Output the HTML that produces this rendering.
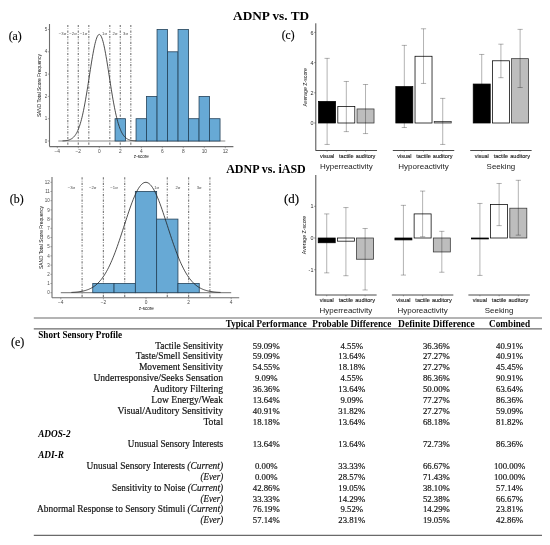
<!DOCTYPE html><html><head><meta charset="utf-8"><style>html,body{margin:0;padding:0;background:#fff;}body{position:relative;width:550px;height:545px;overflow:hidden;}svg{display:block;position:absolute;left:0;top:0;}#t{filter:grayscale(1);}</style></head><body>
<svg width="550" height="545" viewBox="0 0 550 545">
<rect width="550" height="545" fill="#fff"/>
<line x1="67.80" y1="24.00" x2="67.80" y2="146.60" stroke="#808080" stroke-width="1.2" stroke-dasharray="2.2 1.3 0.7 1.4" stroke-dashoffset="-0.9"/>
<line x1="78.30" y1="24.00" x2="78.30" y2="146.60" stroke="#808080" stroke-width="1.2" stroke-dasharray="2.2 1.3 0.7 1.4" stroke-dashoffset="-0.9"/>
<line x1="88.80" y1="24.00" x2="88.80" y2="146.60" stroke="#808080" stroke-width="1.2" stroke-dasharray="2.2 1.3 0.7 1.4" stroke-dashoffset="-0.9"/>
<line x1="109.80" y1="24.00" x2="109.80" y2="146.60" stroke="#808080" stroke-width="1.2" stroke-dasharray="2.2 1.3 0.7 1.4" stroke-dashoffset="-0.9"/>
<line x1="120.30" y1="24.00" x2="120.30" y2="146.60" stroke="#808080" stroke-width="1.2" stroke-dasharray="2.2 1.3 0.7 1.4" stroke-dashoffset="-0.9"/>
<line x1="130.80" y1="24.00" x2="130.80" y2="146.60" stroke="#808080" stroke-width="1.2" stroke-dasharray="2.2 1.3 0.7 1.4" stroke-dashoffset="-0.9"/>
<line x1="58.30" y1="141.00" x2="225.30" y2="141.00" stroke="#8c8c8c" stroke-width="1.2" />
<rect x="115.05" y="118.70" width="10.50" height="22.30" fill="#67a9d5" stroke="#24425a" stroke-width="0.8"/>
<rect x="136.05" y="118.70" width="10.50" height="22.30" fill="#67a9d5" stroke="#24425a" stroke-width="0.8"/>
<rect x="146.55" y="96.40" width="10.50" height="44.60" fill="#67a9d5" stroke="#24425a" stroke-width="0.8"/>
<rect x="157.05" y="29.50" width="10.50" height="111.50" fill="#67a9d5" stroke="#24425a" stroke-width="0.8"/>
<rect x="167.55" y="51.80" width="10.50" height="89.20" fill="#67a9d5" stroke="#24425a" stroke-width="0.8"/>
<rect x="178.05" y="29.50" width="10.50" height="111.50" fill="#67a9d5" stroke="#24425a" stroke-width="0.8"/>
<rect x="188.55" y="118.70" width="10.50" height="22.30" fill="#67a9d5" stroke="#24425a" stroke-width="0.8"/>
<rect x="199.05" y="96.40" width="10.50" height="44.60" fill="#67a9d5" stroke="#24425a" stroke-width="0.8"/>
<rect x="209.55" y="118.70" width="10.50" height="22.30" fill="#67a9d5" stroke="#24425a" stroke-width="0.8"/>
<polyline points="62.55,140.88 63.07,140.85 63.60,140.82 64.12,140.79 64.65,140.74 65.17,140.69 65.70,140.63 66.22,140.56 66.75,140.48 67.27,140.38 67.80,140.27 68.32,140.14 68.85,139.99 69.37,139.82 69.90,139.62 70.42,139.39 70.95,139.12 71.47,138.82 72.00,138.48 72.52,138.09 73.05,137.66 73.57,137.17 74.10,136.62 74.62,136.00 75.15,135.31 75.67,134.55 76.20,133.70 76.72,132.77 77.25,131.74 77.77,130.61 78.30,129.38 78.82,128.03 79.35,126.57 79.87,124.99 80.40,123.29 80.92,121.46 81.45,119.50 81.97,117.41 82.50,115.19 83.02,112.84 83.55,110.35 84.07,107.74 84.60,105.01 85.12,102.16 85.65,99.21 86.17,96.15 86.70,93.00 87.22,89.77 87.75,86.47 88.27,83.13 88.80,79.75 89.32,76.35 89.85,72.95 90.37,69.57 90.90,66.23 91.42,62.95 91.95,59.75 92.47,56.65 93.00,53.68 93.52,50.85 94.05,48.19 94.57,45.72 95.10,43.45 95.62,41.40 96.15,39.59 96.67,38.03 97.20,36.74 97.72,35.73 98.25,34.99 98.77,34.55 99.30,34.41 99.82,34.55 100.35,34.99 100.87,35.73 101.40,36.74 101.92,38.03 102.45,39.59 102.97,41.40 103.50,43.45 104.02,45.72 104.55,48.19 105.07,50.85 105.60,53.68 106.12,56.65 106.65,59.75 107.17,62.95 107.70,66.23 108.22,69.57 108.75,72.95 109.27,76.35 109.80,79.75 110.32,83.13 110.85,86.47 111.37,89.77 111.90,93.00 112.42,96.15 112.95,99.21 113.47,102.16 114.00,105.01 114.52,107.74 115.05,110.35 115.57,112.84 116.10,115.19 116.62,117.41 117.15,119.50 117.67,121.46 118.20,123.29 118.72,124.99 119.25,126.57 119.77,128.03 120.30,129.38 120.82,130.61 121.35,131.74 121.87,132.77 122.40,133.70 122.92,134.55 123.45,135.31 123.97,136.00 124.50,136.62 125.02,137.17 125.55,137.66 126.07,138.09 126.60,138.48 127.12,138.82 127.65,139.12 128.17,139.39 128.70,139.62 129.22,139.82 129.75,139.99 130.27,140.14 130.80,140.27 131.32,140.38 131.85,140.48 132.37,140.56 132.90,140.63 133.42,140.69 133.95,140.74 134.47,140.79 135.00,140.82 135.52,140.85 136.05,140.88" fill="none" stroke="#222" stroke-width="0.8"/>
<line x1="49.50" y1="24.00" x2="49.50" y2="146.60" stroke="#6e6e6e" stroke-width="1.1" />
<line x1="49.50" y1="146.60" x2="233.40" y2="146.60" stroke="#6e6e6e" stroke-width="1.1" />
<line x1="47.90" y1="141.00" x2="49.50" y2="141.00" stroke="#6e6e6e" stroke-width="0.6" />
<line x1="47.90" y1="118.70" x2="49.50" y2="118.70" stroke="#6e6e6e" stroke-width="0.6" />
<line x1="47.90" y1="96.40" x2="49.50" y2="96.40" stroke="#6e6e6e" stroke-width="0.6" />
<line x1="47.90" y1="74.10" x2="49.50" y2="74.10" stroke="#6e6e6e" stroke-width="0.6" />
<line x1="47.90" y1="51.80" x2="49.50" y2="51.80" stroke="#6e6e6e" stroke-width="0.6" />
<line x1="47.90" y1="29.50" x2="49.50" y2="29.50" stroke="#6e6e6e" stroke-width="0.6" />
<line x1="57.30" y1="146.60" x2="57.30" y2="148.20" stroke="#6e6e6e" stroke-width="0.6" />
<line x1="78.30" y1="146.60" x2="78.30" y2="148.20" stroke="#6e6e6e" stroke-width="0.6" />
<line x1="99.30" y1="146.60" x2="99.30" y2="148.20" stroke="#6e6e6e" stroke-width="0.6" />
<line x1="120.30" y1="146.60" x2="120.30" y2="148.20" stroke="#6e6e6e" stroke-width="0.6" />
<line x1="141.30" y1="146.60" x2="141.30" y2="148.20" stroke="#6e6e6e" stroke-width="0.6" />
<line x1="162.30" y1="146.60" x2="162.30" y2="148.20" stroke="#6e6e6e" stroke-width="0.6" />
<line x1="183.30" y1="146.60" x2="183.30" y2="148.20" stroke="#6e6e6e" stroke-width="0.6" />
<line x1="204.30" y1="146.60" x2="204.30" y2="148.20" stroke="#6e6e6e" stroke-width="0.6" />
<line x1="225.30" y1="146.60" x2="225.30" y2="148.20" stroke="#6e6e6e" stroke-width="0.6" />
<line x1="82.10" y1="177.00" x2="82.10" y2="297.70" stroke="#808080" stroke-width="1.2" stroke-dasharray="2.2 1.3 0.7 1.4" stroke-dashoffset="-0.2"/>
<line x1="103.40" y1="177.00" x2="103.40" y2="297.70" stroke="#808080" stroke-width="1.2" stroke-dasharray="2.2 1.3 0.7 1.4" stroke-dashoffset="-0.2"/>
<line x1="124.70" y1="177.00" x2="124.70" y2="297.70" stroke="#808080" stroke-width="1.2" stroke-dasharray="2.2 1.3 0.7 1.4" stroke-dashoffset="-0.2"/>
<line x1="167.30" y1="177.00" x2="167.30" y2="297.70" stroke="#808080" stroke-width="1.2" stroke-dasharray="2.2 1.3 0.7 1.4" stroke-dashoffset="-0.2"/>
<line x1="188.60" y1="177.00" x2="188.60" y2="297.70" stroke="#808080" stroke-width="1.2" stroke-dasharray="2.2 1.3 0.7 1.4" stroke-dashoffset="-0.2"/>
<line x1="209.90" y1="177.00" x2="209.90" y2="297.70" stroke="#808080" stroke-width="1.2" stroke-dasharray="2.2 1.3 0.7 1.4" stroke-dashoffset="-0.2"/>
<line x1="60.80" y1="292.70" x2="231.20" y2="292.70" stroke="#8c8c8c" stroke-width="1.2" />
<rect x="92.75" y="283.50" width="21.30" height="9.20" fill="#67a9d5" stroke="#24425a" stroke-width="0.8"/>
<rect x="114.05" y="283.50" width="21.30" height="9.20" fill="#67a9d5" stroke="#24425a" stroke-width="0.8"/>
<rect x="135.35" y="191.50" width="21.30" height="101.20" fill="#67a9d5" stroke="#24425a" stroke-width="0.8"/>
<rect x="156.65" y="219.10" width="21.30" height="73.60" fill="#67a9d5" stroke="#24425a" stroke-width="0.8"/>
<rect x="177.95" y="283.50" width="21.30" height="9.20" fill="#67a9d5" stroke="#24425a" stroke-width="0.8"/>
<polyline points="71.45,292.40 72.52,292.35 73.58,292.28 74.64,292.21 75.71,292.12 76.77,292.02 77.84,291.91 78.90,291.78 79.97,291.63 81.03,291.46 82.10,291.26 83.16,291.04 84.23,290.78 85.29,290.50 86.36,290.17 87.42,289.81 88.49,289.41 89.55,288.95 90.62,288.44 91.68,287.88 92.75,287.25 93.81,286.56 94.88,285.80 95.94,284.96 97.01,284.04 98.07,283.03 99.14,281.93 100.20,280.74 101.27,279.45 102.33,278.05 103.40,276.55 104.46,274.93 105.53,273.20 106.59,271.35 107.66,269.39 108.72,267.30 109.79,265.10 110.85,262.77 111.92,260.33 112.98,257.78 114.05,255.11 115.11,252.34 116.18,249.48 117.24,246.52 118.31,243.47 119.37,240.35 120.44,237.18 121.50,233.95 122.57,230.68 123.63,227.39 124.70,224.09 125.76,220.80 126.83,217.54 127.89,214.31 128.96,211.15 130.02,208.07 131.09,205.08 132.15,202.20 133.22,199.46 134.28,196.87 135.35,194.44 136.41,192.20 137.48,190.16 138.54,188.32 139.61,186.72 140.67,185.34 141.74,184.22 142.80,183.35 143.87,182.73 144.93,182.39 146.00,182.31 147.06,182.49 148.13,182.95 149.19,183.66 150.26,184.64 151.32,185.86 152.39,187.33 153.45,189.03 154.52,190.95 155.58,193.07 156.65,195.39 157.71,197.89 158.78,200.54 159.84,203.34 160.91,206.26 161.97,209.29 163.04,212.41 164.10,215.60 165.17,218.84 166.23,222.11 167.30,225.41 168.36,228.71 169.43,231.99 170.49,235.24 171.56,238.45 172.62,241.61 173.69,244.70 174.75,247.71 175.82,250.63 176.88,253.46 177.95,256.19 179.01,258.81 180.08,261.32 181.14,263.72 182.21,265.99 183.27,268.15 184.34,270.19 185.40,272.10 186.47,273.91 187.53,275.59 188.60,277.16 189.66,278.62 190.73,279.98 191.79,281.23 192.86,282.38 193.92,283.44 194.99,284.42 196.05,285.30 197.12,286.11 198.18,286.85 199.25,287.51 200.31,288.11 201.38,288.65 202.44,289.14 203.51,289.57 204.57,289.96 205.64,290.31 206.70,290.62 207.77,290.89 208.83,291.13 209.90,291.34 210.96,291.53 212.03,291.69 213.09,291.83 214.16,291.96 215.22,292.06 216.29,292.16 217.35,292.24 218.42,292.31 219.48,292.37 220.55,292.42" fill="none" stroke="#222" stroke-width="0.8"/>
<line x1="52.00" y1="177.00" x2="52.00" y2="297.70" stroke="#6e6e6e" stroke-width="1.1" />
<line x1="52.00" y1="297.70" x2="239.20" y2="297.70" stroke="#6e6e6e" stroke-width="1.1" />
<line x1="50.40" y1="292.70" x2="52.00" y2="292.70" stroke="#6e6e6e" stroke-width="0.6" />
<line x1="50.40" y1="283.50" x2="52.00" y2="283.50" stroke="#6e6e6e" stroke-width="0.6" />
<line x1="50.40" y1="274.30" x2="52.00" y2="274.30" stroke="#6e6e6e" stroke-width="0.6" />
<line x1="50.40" y1="265.10" x2="52.00" y2="265.10" stroke="#6e6e6e" stroke-width="0.6" />
<line x1="50.40" y1="255.90" x2="52.00" y2="255.90" stroke="#6e6e6e" stroke-width="0.6" />
<line x1="50.40" y1="246.70" x2="52.00" y2="246.70" stroke="#6e6e6e" stroke-width="0.6" />
<line x1="50.40" y1="237.50" x2="52.00" y2="237.50" stroke="#6e6e6e" stroke-width="0.6" />
<line x1="50.40" y1="228.30" x2="52.00" y2="228.30" stroke="#6e6e6e" stroke-width="0.6" />
<line x1="50.40" y1="219.10" x2="52.00" y2="219.10" stroke="#6e6e6e" stroke-width="0.6" />
<line x1="50.40" y1="209.90" x2="52.00" y2="209.90" stroke="#6e6e6e" stroke-width="0.6" />
<line x1="50.40" y1="200.70" x2="52.00" y2="200.70" stroke="#6e6e6e" stroke-width="0.6" />
<line x1="50.40" y1="191.50" x2="52.00" y2="191.50" stroke="#6e6e6e" stroke-width="0.6" />
<line x1="50.40" y1="182.30" x2="52.00" y2="182.30" stroke="#6e6e6e" stroke-width="0.6" />
<line x1="60.80" y1="297.70" x2="60.80" y2="299.30" stroke="#6e6e6e" stroke-width="0.6" />
<line x1="103.40" y1="297.70" x2="103.40" y2="299.30" stroke="#6e6e6e" stroke-width="0.6" />
<line x1="146.00" y1="297.70" x2="146.00" y2="299.30" stroke="#6e6e6e" stroke-width="0.6" />
<line x1="188.60" y1="297.70" x2="188.60" y2="299.30" stroke="#6e6e6e" stroke-width="0.6" />
<line x1="231.20" y1="297.70" x2="231.20" y2="299.30" stroke="#6e6e6e" stroke-width="0.6" />
<rect x="318.62" y="101.41" width="17.00" height="21.59" fill="#000" stroke="#000" stroke-width="0.75"/>
<path d="M324.52,58.37H329.72M327.12,58.37V144.44M324.52,144.44H329.72" stroke="#000" stroke-opacity="0.3" stroke-width="1.0" fill="none"/>
<line x1="327.12" y1="150.50" x2="327.12" y2="151.80" stroke="#4a4a4a" stroke-width="0.5" />
<rect x="337.82" y="106.39" width="17.00" height="16.61" fill="#fff" stroke="#000" stroke-width="0.75"/>
<path d="M343.72,81.47H348.92M346.32,81.47V131.61M343.72,131.61H348.92" stroke="#000" stroke-opacity="0.3" stroke-width="1.0" fill="none"/>
<line x1="346.32" y1="150.50" x2="346.32" y2="151.80" stroke="#4a4a4a" stroke-width="0.5" />
<rect x="357.02" y="108.96" width="17.00" height="14.04" fill="#bdbdbd" stroke="#333" stroke-width="0.75"/>
<path d="M362.92,84.50H368.12M365.52,84.50V133.57M362.92,133.57H368.12" stroke="#000" stroke-opacity="0.3" stroke-width="1.0" fill="none"/>
<line x1="365.52" y1="150.50" x2="365.52" y2="151.80" stroke="#4a4a4a" stroke-width="0.5" />
<line x1="315.60" y1="150.50" x2="377.04" y2="150.50" stroke="#4a4a4a" stroke-width="1" />
<rect x="395.82" y="86.61" width="17.00" height="36.39" fill="#000" stroke="#000" stroke-width="0.75"/>
<path d="M401.72,45.39H406.92M404.32,45.39V127.53M401.72,127.53H406.92" stroke="#000" stroke-opacity="0.3" stroke-width="1.0" fill="none"/>
<line x1="404.32" y1="150.50" x2="404.32" y2="151.80" stroke="#4a4a4a" stroke-width="0.5" />
<rect x="415.02" y="56.26" width="17.00" height="66.74" fill="#fff" stroke="#000" stroke-width="0.75"/>
<path d="M420.92,28.78H426.12M423.52,28.78V83.44M420.92,83.44H426.12" stroke="#000" stroke-opacity="0.3" stroke-width="1.0" fill="none"/>
<line x1="423.52" y1="150.50" x2="423.52" y2="151.80" stroke="#4a4a4a" stroke-width="0.5" />
<rect x="434.22" y="121.49" width="17.00" height="1.51" fill="#bdbdbd" stroke="#333" stroke-width="0.75"/>
<path d="M440.12,98.39H445.32M442.72,98.39V144.44M440.12,144.44H445.32" stroke="#000" stroke-opacity="0.3" stroke-width="1.0" fill="none"/>
<line x1="442.72" y1="150.50" x2="442.72" y2="151.80" stroke="#4a4a4a" stroke-width="0.5" />
<line x1="392.80" y1="150.50" x2="454.24" y2="150.50" stroke="#4a4a4a" stroke-width="1" />
<rect x="473.22" y="84.04" width="17.00" height="38.96" fill="#000" stroke="#000" stroke-width="0.75"/>
<path d="M479.12,54.45H484.32M481.72,54.45V113.64M479.12,113.64H484.32" stroke="#000" stroke-opacity="0.3" stroke-width="1.0" fill="none"/>
<line x1="481.72" y1="150.50" x2="481.72" y2="151.80" stroke="#4a4a4a" stroke-width="0.5" />
<rect x="492.42" y="60.79" width="17.00" height="62.21" fill="#fff" stroke="#000" stroke-width="0.75"/>
<path d="M498.32,44.18H503.52M500.92,44.18V77.70M498.32,77.70H503.52" stroke="#000" stroke-opacity="0.3" stroke-width="1.0" fill="none"/>
<line x1="500.92" y1="150.50" x2="500.92" y2="151.80" stroke="#4a4a4a" stroke-width="0.5" />
<rect x="511.62" y="58.67" width="17.00" height="64.33" fill="#bdbdbd" stroke="#333" stroke-width="0.75"/>
<path d="M517.52,29.38H522.72M520.12,29.38V87.52M517.52,87.52H522.72" stroke="#000" stroke-opacity="0.3" stroke-width="1.0" fill="none"/>
<line x1="520.12" y1="150.50" x2="520.12" y2="151.80" stroke="#4a4a4a" stroke-width="0.5" />
<line x1="470.20" y1="150.50" x2="531.64" y2="150.50" stroke="#4a4a4a" stroke-width="1" />
<line x1="315.80" y1="23.30" x2="315.80" y2="150.50" stroke="#4a4a4a" stroke-width="1" />
<line x1="314.20" y1="123.00" x2="315.80" y2="123.00" stroke="#4a4a4a" stroke-width="0.6" />
<line x1="314.20" y1="92.80" x2="315.80" y2="92.80" stroke="#4a4a4a" stroke-width="0.6" />
<line x1="314.20" y1="62.60" x2="315.80" y2="62.60" stroke="#4a4a4a" stroke-width="0.6" />
<line x1="314.20" y1="32.40" x2="315.80" y2="32.40" stroke="#4a4a4a" stroke-width="0.6" />
<rect x="318.22" y="238.00" width="17.00" height="4.75" fill="#000" stroke="#000" stroke-width="0.75"/>
<path d="M324.12,213.91H329.32M326.72,213.91V272.87M324.12,272.87H329.32" stroke="#000" stroke-opacity="0.3" stroke-width="1.0" fill="none"/>
<line x1="326.72" y1="295.00" x2="326.72" y2="296.30" stroke="#4a4a4a" stroke-width="0.5" />
<rect x="337.42" y="238.00" width="17.00" height="3.17" fill="#fff" stroke="#000" stroke-width="0.75"/>
<path d="M343.32,207.57H348.52M345.92,207.57V275.72M343.32,275.72H348.52" stroke="#000" stroke-opacity="0.3" stroke-width="1.0" fill="none"/>
<line x1="345.92" y1="295.00" x2="345.92" y2="296.30" stroke="#4a4a4a" stroke-width="0.5" />
<rect x="356.62" y="238.00" width="17.00" height="21.24" fill="#bdbdbd" stroke="#333" stroke-width="0.75"/>
<path d="M362.52,228.49H367.72M365.12,228.49V289.99M362.52,289.99H367.72" stroke="#000" stroke-opacity="0.3" stroke-width="1.0" fill="none"/>
<line x1="365.12" y1="295.00" x2="365.12" y2="296.30" stroke="#4a4a4a" stroke-width="0.5" />
<line x1="315.20" y1="295.00" x2="376.64" y2="295.00" stroke="#4a4a4a" stroke-width="1" />
<rect x="394.92" y="238.00" width="17.00" height="1.90" fill="#000" stroke="#000" stroke-width="0.75"/>
<path d="M400.82,205.35H406.02M403.42,205.35V275.09M400.82,275.09H406.02" stroke="#000" stroke-opacity="0.3" stroke-width="1.0" fill="none"/>
<line x1="403.42" y1="295.00" x2="403.42" y2="296.30" stroke="#4a4a4a" stroke-width="0.5" />
<rect x="414.12" y="213.91" width="17.00" height="24.09" fill="#fff" stroke="#000" stroke-width="0.75"/>
<path d="M420.02,191.08H425.22M422.62,191.08V236.73M420.02,236.73H425.22" stroke="#000" stroke-opacity="0.3" stroke-width="1.0" fill="none"/>
<line x1="422.62" y1="295.00" x2="422.62" y2="296.30" stroke="#4a4a4a" stroke-width="0.5" />
<rect x="433.32" y="238.00" width="17.00" height="13.95" fill="#bdbdbd" stroke="#333" stroke-width="0.75"/>
<path d="M439.22,231.34H444.42M441.82,231.34V272.24M439.22,272.24H444.42" stroke="#000" stroke-opacity="0.3" stroke-width="1.0" fill="none"/>
<line x1="441.82" y1="295.00" x2="441.82" y2="296.30" stroke="#4a4a4a" stroke-width="0.5" />
<line x1="391.90" y1="295.00" x2="453.34" y2="295.00" stroke="#4a4a4a" stroke-width="1" />
<rect x="471.42" y="238.00" width="17.00" height="0.95" fill="#000" stroke="#000" stroke-width="0.75"/>
<path d="M477.32,203.45H482.52M479.92,203.45V275.41M477.32,275.41H482.52" stroke="#000" stroke-opacity="0.3" stroke-width="1.0" fill="none"/>
<line x1="479.92" y1="295.00" x2="479.92" y2="296.30" stroke="#4a4a4a" stroke-width="0.5" />
<rect x="490.62" y="204.40" width="17.00" height="33.60" fill="#fff" stroke="#000" stroke-width="0.75"/>
<path d="M496.52,183.48H501.72M499.12,183.48V225.64M496.52,225.64H501.72" stroke="#000" stroke-opacity="0.3" stroke-width="1.0" fill="none"/>
<line x1="499.12" y1="295.00" x2="499.12" y2="296.30" stroke="#4a4a4a" stroke-width="0.5" />
<rect x="509.82" y="208.20" width="17.00" height="29.80" fill="#bdbdbd" stroke="#333" stroke-width="0.75"/>
<path d="M515.72,180.31H520.92M518.32,180.31V235.15M515.72,235.15H520.92" stroke="#000" stroke-opacity="0.3" stroke-width="1.0" fill="none"/>
<line x1="518.32" y1="295.00" x2="518.32" y2="296.30" stroke="#4a4a4a" stroke-width="0.5" />
<line x1="468.40" y1="295.00" x2="529.84" y2="295.00" stroke="#4a4a4a" stroke-width="1" />
<line x1="315.80" y1="175.00" x2="315.80" y2="295.00" stroke="#4a4a4a" stroke-width="1" />
<line x1="314.20" y1="269.70" x2="315.80" y2="269.70" stroke="#4a4a4a" stroke-width="0.6" />
<line x1="314.20" y1="238.00" x2="315.80" y2="238.00" stroke="#4a4a4a" stroke-width="0.6" />
<line x1="314.20" y1="206.30" x2="315.80" y2="206.30" stroke="#4a4a4a" stroke-width="0.6" />
<line x1="33.80" y1="318.00" x2="542.00" y2="318.00" stroke="#6a6a6a" stroke-width="1.1" />
<line x1="33.80" y1="328.90" x2="542.00" y2="328.90" stroke="#6a6a6a" stroke-width="1.1" />
<line x1="33.80" y1="535.40" x2="542.00" y2="535.40" stroke="#6a6a6a" stroke-width="1.1" />
</svg>
<svg id="t" width="550" height="545" viewBox="0 0 550 545">
<text x="233.10" y="19.60" font-family='"Liberation Serif", serif' font-size="12.9" text-anchor="start" fill="#000" font-weight="bold" font-style="normal" textLength="76.00" lengthAdjust="spacingAndGlyphs" >ADNP vs. TD</text>
<text x="226.20" y="172.60" font-family='"Liberation Serif", serif' font-size="12.6" text-anchor="start" fill="#000" font-weight="bold" font-style="normal" textLength="79.60" lengthAdjust="spacingAndGlyphs" >ADNP vs. iASD</text>
<text x="8.70" y="40.40" font-family='"Liberation Serif", serif' font-size="12.5" text-anchor="start" fill="#000" font-weight="normal" font-style="normal" textLength="13.10" lengthAdjust="spacingAndGlyphs"  stroke="#000" stroke-width="0.15">(a)</text>
<text x="9.80" y="203.00" font-family='"Liberation Serif", serif' font-size="12.5" text-anchor="start" fill="#000" font-weight="normal" font-style="normal" textLength="13.80" lengthAdjust="spacingAndGlyphs"  stroke="#000" stroke-width="0.15">(b)</text>
<text x="281.70" y="38.50" font-family='"Liberation Serif", serif' font-size="12.5" text-anchor="start" fill="#000" font-weight="normal" font-style="normal" textLength="12.80" lengthAdjust="spacingAndGlyphs"  stroke="#000" stroke-width="0.15">(c)</text>
<text x="283.90" y="203.30" font-family='"Liberation Serif", serif' font-size="12.5" text-anchor="start" fill="#000" font-weight="normal" font-style="normal" textLength="15.10" lengthAdjust="spacingAndGlyphs"  stroke="#000" stroke-width="0.15">(d)</text>
<text x="10.90" y="345.60" font-family='"Liberation Serif", serif' font-size="12.5" text-anchor="start" fill="#000" font-weight="normal" font-style="normal" textLength="13.50" lengthAdjust="spacingAndGlyphs"  stroke="#000" stroke-width="0.15">(e)</text>
<text x="62.55" y="35.30" font-family='"Liberation Sans", sans-serif' font-size="4.2" text-anchor="middle" fill="#505050" font-weight="normal" font-style="normal" >−3σ</text>
<text x="73.05" y="35.30" font-family='"Liberation Sans", sans-serif' font-size="4.2" text-anchor="middle" fill="#505050" font-weight="normal" font-style="normal" >−2σ</text>
<text x="83.55" y="35.30" font-family='"Liberation Sans", sans-serif' font-size="4.2" text-anchor="middle" fill="#505050" font-weight="normal" font-style="normal" >−1σ</text>
<text x="104.55" y="35.30" font-family='"Liberation Sans", sans-serif' font-size="4.2" text-anchor="middle" fill="#505050" font-weight="normal" font-style="normal" >1σ</text>
<text x="115.05" y="35.30" font-family='"Liberation Sans", sans-serif' font-size="4.2" text-anchor="middle" fill="#505050" font-weight="normal" font-style="normal" >2σ</text>
<text x="125.55" y="35.30" font-family='"Liberation Sans", sans-serif' font-size="4.2" text-anchor="middle" fill="#505050" font-weight="normal" font-style="normal" >3σ</text>
<text x="47.30" y="142.60" font-family='"Liberation Sans", sans-serif' font-size="4.5" text-anchor="end" fill="#4a4a4a" font-weight="normal" font-style="normal" >0</text>
<text x="47.30" y="120.30" font-family='"Liberation Sans", sans-serif' font-size="4.5" text-anchor="end" fill="#4a4a4a" font-weight="normal" font-style="normal" >1</text>
<text x="47.30" y="98.00" font-family='"Liberation Sans", sans-serif' font-size="4.5" text-anchor="end" fill="#4a4a4a" font-weight="normal" font-style="normal" >2</text>
<text x="47.30" y="75.70" font-family='"Liberation Sans", sans-serif' font-size="4.5" text-anchor="end" fill="#4a4a4a" font-weight="normal" font-style="normal" >3</text>
<text x="47.30" y="53.40" font-family='"Liberation Sans", sans-serif' font-size="4.5" text-anchor="end" fill="#4a4a4a" font-weight="normal" font-style="normal" >4</text>
<text x="47.30" y="31.10" font-family='"Liberation Sans", sans-serif' font-size="4.5" text-anchor="end" fill="#4a4a4a" font-weight="normal" font-style="normal" >5</text>
<text x="57.30" y="152.90" font-family='"Liberation Sans", sans-serif' font-size="4.8" text-anchor="middle" fill="#4a4a4a" font-weight="normal" font-style="normal" >−4</text>
<text x="78.30" y="152.90" font-family='"Liberation Sans", sans-serif' font-size="4.8" text-anchor="middle" fill="#4a4a4a" font-weight="normal" font-style="normal" >−2</text>
<text x="99.30" y="152.90" font-family='"Liberation Sans", sans-serif' font-size="4.8" text-anchor="middle" fill="#4a4a4a" font-weight="normal" font-style="normal" >0</text>
<text x="120.30" y="152.90" font-family='"Liberation Sans", sans-serif' font-size="4.8" text-anchor="middle" fill="#4a4a4a" font-weight="normal" font-style="normal" >2</text>
<text x="141.30" y="152.90" font-family='"Liberation Sans", sans-serif' font-size="4.8" text-anchor="middle" fill="#4a4a4a" font-weight="normal" font-style="normal" >4</text>
<text x="162.30" y="152.90" font-family='"Liberation Sans", sans-serif' font-size="4.8" text-anchor="middle" fill="#4a4a4a" font-weight="normal" font-style="normal" >6</text>
<text x="183.30" y="152.90" font-family='"Liberation Sans", sans-serif' font-size="4.8" text-anchor="middle" fill="#4a4a4a" font-weight="normal" font-style="normal" >8</text>
<text x="204.30" y="152.90" font-family='"Liberation Sans", sans-serif' font-size="4.8" text-anchor="middle" fill="#4a4a4a" font-weight="normal" font-style="normal" >10</text>
<text x="225.30" y="152.90" font-family='"Liberation Sans", sans-serif' font-size="4.8" text-anchor="middle" fill="#4a4a4a" font-weight="normal" font-style="normal" >12</text>
<text x="141.40" y="158.20" font-family='"Liberation Sans", sans-serif' font-size="4.6" text-anchor="middle" fill="#111" font-weight="normal" font-style="normal" >z-score</text>
<text transform="translate(41.30,85.60) rotate(-90)" x="0" y="0" font-family='"Liberation Sans", sans-serif' font-size="4.75" text-anchor="middle" fill="#111" textLength="63" lengthAdjust="spacingAndGlyphs">SAND Total Score Frequency</text>
<text x="71.45" y="188.80" font-family='"Liberation Sans", sans-serif' font-size="4.2" text-anchor="middle" fill="#505050" font-weight="normal" font-style="normal" >−3σ</text>
<text x="92.75" y="188.80" font-family='"Liberation Sans", sans-serif' font-size="4.2" text-anchor="middle" fill="#505050" font-weight="normal" font-style="normal" >−2σ</text>
<text x="114.05" y="188.80" font-family='"Liberation Sans", sans-serif' font-size="4.2" text-anchor="middle" fill="#505050" font-weight="normal" font-style="normal" >−1σ</text>
<text x="156.65" y="188.80" font-family='"Liberation Sans", sans-serif' font-size="4.2" text-anchor="middle" fill="#505050" font-weight="normal" font-style="normal" >1σ</text>
<text x="177.95" y="188.80" font-family='"Liberation Sans", sans-serif' font-size="4.2" text-anchor="middle" fill="#505050" font-weight="normal" font-style="normal" >2σ</text>
<text x="199.25" y="188.80" font-family='"Liberation Sans", sans-serif' font-size="4.2" text-anchor="middle" fill="#505050" font-weight="normal" font-style="normal" >3σ</text>
<text x="49.80" y="294.30" font-family='"Liberation Sans", sans-serif' font-size="4.5" text-anchor="end" fill="#4a4a4a" font-weight="normal" font-style="normal" >0</text>
<text x="49.80" y="285.10" font-family='"Liberation Sans", sans-serif' font-size="4.5" text-anchor="end" fill="#4a4a4a" font-weight="normal" font-style="normal" >1</text>
<text x="49.80" y="275.90" font-family='"Liberation Sans", sans-serif' font-size="4.5" text-anchor="end" fill="#4a4a4a" font-weight="normal" font-style="normal" >2</text>
<text x="49.80" y="266.70" font-family='"Liberation Sans", sans-serif' font-size="4.5" text-anchor="end" fill="#4a4a4a" font-weight="normal" font-style="normal" >3</text>
<text x="49.80" y="257.50" font-family='"Liberation Sans", sans-serif' font-size="4.5" text-anchor="end" fill="#4a4a4a" font-weight="normal" font-style="normal" >4</text>
<text x="49.80" y="248.30" font-family='"Liberation Sans", sans-serif' font-size="4.5" text-anchor="end" fill="#4a4a4a" font-weight="normal" font-style="normal" >5</text>
<text x="49.80" y="239.10" font-family='"Liberation Sans", sans-serif' font-size="4.5" text-anchor="end" fill="#4a4a4a" font-weight="normal" font-style="normal" >6</text>
<text x="49.80" y="229.90" font-family='"Liberation Sans", sans-serif' font-size="4.5" text-anchor="end" fill="#4a4a4a" font-weight="normal" font-style="normal" >7</text>
<text x="49.80" y="220.70" font-family='"Liberation Sans", sans-serif' font-size="4.5" text-anchor="end" fill="#4a4a4a" font-weight="normal" font-style="normal" >8</text>
<text x="49.80" y="211.50" font-family='"Liberation Sans", sans-serif' font-size="4.5" text-anchor="end" fill="#4a4a4a" font-weight="normal" font-style="normal" >9</text>
<text x="49.80" y="202.30" font-family='"Liberation Sans", sans-serif' font-size="4.5" text-anchor="end" fill="#4a4a4a" font-weight="normal" font-style="normal" >10</text>
<text x="49.80" y="193.10" font-family='"Liberation Sans", sans-serif' font-size="4.5" text-anchor="end" fill="#4a4a4a" font-weight="normal" font-style="normal" >11</text>
<text x="49.80" y="183.90" font-family='"Liberation Sans", sans-serif' font-size="4.5" text-anchor="end" fill="#4a4a4a" font-weight="normal" font-style="normal" >12</text>
<text x="60.80" y="304.00" font-family='"Liberation Sans", sans-serif' font-size="4.8" text-anchor="middle" fill="#4a4a4a" font-weight="normal" font-style="normal" >−4</text>
<text x="103.40" y="304.00" font-family='"Liberation Sans", sans-serif' font-size="4.8" text-anchor="middle" fill="#4a4a4a" font-weight="normal" font-style="normal" >−2</text>
<text x="146.00" y="304.00" font-family='"Liberation Sans", sans-serif' font-size="4.8" text-anchor="middle" fill="#4a4a4a" font-weight="normal" font-style="normal" >0</text>
<text x="188.60" y="304.00" font-family='"Liberation Sans", sans-serif' font-size="4.8" text-anchor="middle" fill="#4a4a4a" font-weight="normal" font-style="normal" >2</text>
<text x="231.20" y="304.00" font-family='"Liberation Sans", sans-serif' font-size="4.8" text-anchor="middle" fill="#4a4a4a" font-weight="normal" font-style="normal" >4</text>
<text x="146.40" y="309.60" font-family='"Liberation Sans", sans-serif' font-size="4.6" text-anchor="middle" fill="#111" font-weight="normal" font-style="normal" >z-score</text>
<text transform="translate(42.90,237.50) rotate(-90)" x="0" y="0" font-family='"Liberation Sans", sans-serif' font-size="4.75" text-anchor="middle" fill="#111" textLength="63" lengthAdjust="spacingAndGlyphs">SAND Total Score Frequency</text>
<text x="327.12" y="157.80" font-family='"Liberation Sans", sans-serif' font-size="5.55" text-anchor="middle" fill="#1a1a1a" font-weight="normal" font-style="normal" stroke="#1a1a1a" stroke-width="0.12">visual</text>
<text x="346.32" y="157.80" font-family='"Liberation Sans", sans-serif' font-size="5.55" text-anchor="middle" fill="#1a1a1a" font-weight="normal" font-style="normal" stroke="#1a1a1a" stroke-width="0.12">tactile</text>
<text x="365.52" y="157.80" font-family='"Liberation Sans", sans-serif' font-size="5.55" text-anchor="middle" fill="#1a1a1a" font-weight="normal" font-style="normal" stroke="#1a1a1a" stroke-width="0.12">auditory</text>
<text x="346.32" y="169.40" font-family='"Liberation Sans", sans-serif' font-size="8.0" text-anchor="middle" fill="#1a1a1a" font-weight="normal" font-style="normal" textLength="52.60" lengthAdjust="spacingAndGlyphs" >Hyperreactivity</text>
<text x="404.32" y="157.80" font-family='"Liberation Sans", sans-serif' font-size="5.55" text-anchor="middle" fill="#1a1a1a" font-weight="normal" font-style="normal" stroke="#1a1a1a" stroke-width="0.12">visual</text>
<text x="423.52" y="157.80" font-family='"Liberation Sans", sans-serif' font-size="5.55" text-anchor="middle" fill="#1a1a1a" font-weight="normal" font-style="normal" stroke="#1a1a1a" stroke-width="0.12">tactile</text>
<text x="442.72" y="157.80" font-family='"Liberation Sans", sans-serif' font-size="5.55" text-anchor="middle" fill="#1a1a1a" font-weight="normal" font-style="normal" stroke="#1a1a1a" stroke-width="0.12">auditory</text>
<text x="423.52" y="169.40" font-family='"Liberation Sans", sans-serif' font-size="8.0" text-anchor="middle" fill="#1a1a1a" font-weight="normal" font-style="normal" textLength="50.40" lengthAdjust="spacingAndGlyphs" >Hyporeactivity</text>
<text x="481.72" y="157.80" font-family='"Liberation Sans", sans-serif' font-size="5.55" text-anchor="middle" fill="#1a1a1a" font-weight="normal" font-style="normal" stroke="#1a1a1a" stroke-width="0.12">visual</text>
<text x="500.92" y="157.80" font-family='"Liberation Sans", sans-serif' font-size="5.55" text-anchor="middle" fill="#1a1a1a" font-weight="normal" font-style="normal" stroke="#1a1a1a" stroke-width="0.12">tactile</text>
<text x="520.12" y="157.80" font-family='"Liberation Sans", sans-serif' font-size="5.55" text-anchor="middle" fill="#1a1a1a" font-weight="normal" font-style="normal" stroke="#1a1a1a" stroke-width="0.12">auditory</text>
<text x="500.92" y="169.40" font-family='"Liberation Sans", sans-serif' font-size="8.0" text-anchor="middle" fill="#1a1a1a" font-weight="normal" font-style="normal" textLength="28.60" lengthAdjust="spacingAndGlyphs" >Seeking</text>
<text x="313.40" y="125.10" font-family='"Liberation Sans", sans-serif' font-size="5.4" text-anchor="end" fill="#2a2a2a" font-weight="normal" font-style="normal" >0</text>
<text x="313.40" y="94.90" font-family='"Liberation Sans", sans-serif' font-size="5.4" text-anchor="end" fill="#2a2a2a" font-weight="normal" font-style="normal" >2</text>
<text x="313.40" y="64.70" font-family='"Liberation Sans", sans-serif' font-size="5.4" text-anchor="end" fill="#2a2a2a" font-weight="normal" font-style="normal" >4</text>
<text x="313.40" y="34.50" font-family='"Liberation Sans", sans-serif' font-size="5.4" text-anchor="end" fill="#2a2a2a" font-weight="normal" font-style="normal" >6</text>
<text transform="translate(307.30,87.30) rotate(-90)" x="0" y="0" font-family='"Liberation Sans", sans-serif' font-size="5.4" text-anchor="middle" fill="#111" textLength="38.5" lengthAdjust="spacingAndGlyphs">Average Z-score</text>
<text x="326.72" y="301.90" font-family='"Liberation Sans", sans-serif' font-size="5.55" text-anchor="middle" fill="#1a1a1a" font-weight="normal" font-style="normal" stroke="#1a1a1a" stroke-width="0.12">visual</text>
<text x="345.92" y="301.90" font-family='"Liberation Sans", sans-serif' font-size="5.55" text-anchor="middle" fill="#1a1a1a" font-weight="normal" font-style="normal" stroke="#1a1a1a" stroke-width="0.12">tactile</text>
<text x="365.12" y="301.90" font-family='"Liberation Sans", sans-serif' font-size="5.55" text-anchor="middle" fill="#1a1a1a" font-weight="normal" font-style="normal" stroke="#1a1a1a" stroke-width="0.12">auditory</text>
<text x="345.92" y="313.00" font-family='"Liberation Sans", sans-serif' font-size="8.0" text-anchor="middle" fill="#1a1a1a" font-weight="normal" font-style="normal" textLength="52.60" lengthAdjust="spacingAndGlyphs" >Hyperreactivity</text>
<text x="403.42" y="301.90" font-family='"Liberation Sans", sans-serif' font-size="5.55" text-anchor="middle" fill="#1a1a1a" font-weight="normal" font-style="normal" stroke="#1a1a1a" stroke-width="0.12">visual</text>
<text x="422.62" y="301.90" font-family='"Liberation Sans", sans-serif' font-size="5.55" text-anchor="middle" fill="#1a1a1a" font-weight="normal" font-style="normal" stroke="#1a1a1a" stroke-width="0.12">tactile</text>
<text x="441.82" y="301.90" font-family='"Liberation Sans", sans-serif' font-size="5.55" text-anchor="middle" fill="#1a1a1a" font-weight="normal" font-style="normal" stroke="#1a1a1a" stroke-width="0.12">auditory</text>
<text x="422.62" y="313.00" font-family='"Liberation Sans", sans-serif' font-size="8.0" text-anchor="middle" fill="#1a1a1a" font-weight="normal" font-style="normal" textLength="50.40" lengthAdjust="spacingAndGlyphs" >Hyporeactivity</text>
<text x="479.92" y="301.90" font-family='"Liberation Sans", sans-serif' font-size="5.55" text-anchor="middle" fill="#1a1a1a" font-weight="normal" font-style="normal" stroke="#1a1a1a" stroke-width="0.12">visual</text>
<text x="499.12" y="301.90" font-family='"Liberation Sans", sans-serif' font-size="5.55" text-anchor="middle" fill="#1a1a1a" font-weight="normal" font-style="normal" stroke="#1a1a1a" stroke-width="0.12">tactile</text>
<text x="518.32" y="301.90" font-family='"Liberation Sans", sans-serif' font-size="5.55" text-anchor="middle" fill="#1a1a1a" font-weight="normal" font-style="normal" stroke="#1a1a1a" stroke-width="0.12">auditory</text>
<text x="499.12" y="313.00" font-family='"Liberation Sans", sans-serif' font-size="8.0" text-anchor="middle" fill="#1a1a1a" font-weight="normal" font-style="normal" textLength="28.60" lengthAdjust="spacingAndGlyphs" >Seeking</text>
<text x="313.40" y="271.80" font-family='"Liberation Sans", sans-serif' font-size="5.4" text-anchor="end" fill="#2a2a2a" font-weight="normal" font-style="normal" >-1</text>
<text x="313.40" y="240.10" font-family='"Liberation Sans", sans-serif' font-size="5.4" text-anchor="end" fill="#2a2a2a" font-weight="normal" font-style="normal" >0</text>
<text x="313.40" y="208.40" font-family='"Liberation Sans", sans-serif' font-size="5.4" text-anchor="end" fill="#2a2a2a" font-weight="normal" font-style="normal" >1</text>
<text transform="translate(305.50,235.00) rotate(-90)" x="0" y="0" font-family='"Liberation Sans", sans-serif' font-size="5.4" text-anchor="middle" fill="#111" textLength="38.5" lengthAdjust="spacingAndGlyphs">Average Z-score</text>
<text x="266.30" y="326.80" font-family='"Liberation Serif", serif' font-size="9.7" text-anchor="middle" fill="#000" font-weight="bold" font-style="normal" textLength="81.00" lengthAdjust="spacingAndGlyphs" >Typical Performance</text>
<text x="351.80" y="326.80" font-family='"Liberation Serif", serif' font-size="9.7" text-anchor="middle" fill="#000" font-weight="bold" font-style="normal" textLength="79.00" lengthAdjust="spacingAndGlyphs" >Probable Difference</text>
<text x="436.40" y="326.80" font-family='"Liberation Serif", serif' font-size="9.7" text-anchor="middle" fill="#000" font-weight="bold" font-style="normal" textLength="76.60" lengthAdjust="spacingAndGlyphs" >Definite Difference</text>
<text x="509.60" y="326.80" font-family='"Liberation Serif", serif' font-size="9.7" text-anchor="middle" fill="#000" font-weight="bold" font-style="normal" textLength="41.00" lengthAdjust="spacingAndGlyphs" >Combined</text>
<text x="38.20" y="338.30" font-family='"Liberation Serif", serif' font-size="9.4" text-anchor="start" fill="#000" font-weight="bold" font-style="normal" textLength="84.00" lengthAdjust="spacingAndGlyphs" >Short Sensory Profile</text>
<text x="223.10" y="348.60" font-family='"Liberation Serif", serif' font-size="9.5" text-anchor="end" fill="#111" font-weight="normal" font-style="normal" textLength="67.80" lengthAdjust="spacingAndGlyphs" stroke="#111" stroke-width="0.18">Tactile Sensitivity</text>
<text x="266.30" y="348.60" font-family='"Liberation Serif", serif' font-size="9.2" text-anchor="middle" fill="#111" font-weight="normal" font-style="normal" textLength="26.98" lengthAdjust="spacingAndGlyphs" stroke="#111" stroke-width="0.18">59.09%</text>
<text x="351.80" y="348.60" font-family='"Liberation Serif", serif' font-size="9.2" text-anchor="middle" fill="#111" font-weight="normal" font-style="normal" textLength="22.60" lengthAdjust="spacingAndGlyphs" stroke="#111" stroke-width="0.18">4.55%</text>
<text x="436.40" y="348.60" font-family='"Liberation Serif", serif' font-size="9.2" text-anchor="middle" fill="#111" font-weight="normal" font-style="normal" textLength="26.98" lengthAdjust="spacingAndGlyphs" stroke="#111" stroke-width="0.18">36.36%</text>
<text x="509.60" y="348.60" font-family='"Liberation Serif", serif' font-size="9.2" text-anchor="middle" fill="#111" font-weight="normal" font-style="normal" textLength="26.98" lengthAdjust="spacingAndGlyphs" stroke="#111" stroke-width="0.18">40.91%</text>
<text x="223.10" y="359.48" font-family='"Liberation Serif", serif' font-size="9.5" text-anchor="end" fill="#111" font-weight="normal" font-style="normal" textLength="87.30" lengthAdjust="spacingAndGlyphs" stroke="#111" stroke-width="0.18">Taste/Smell Sensitivity</text>
<text x="266.30" y="359.48" font-family='"Liberation Serif", serif' font-size="9.2" text-anchor="middle" fill="#111" font-weight="normal" font-style="normal" textLength="26.98" lengthAdjust="spacingAndGlyphs" stroke="#111" stroke-width="0.18">59.09%</text>
<text x="351.80" y="359.48" font-family='"Liberation Serif", serif' font-size="9.2" text-anchor="middle" fill="#111" font-weight="normal" font-style="normal" textLength="26.98" lengthAdjust="spacingAndGlyphs" stroke="#111" stroke-width="0.18">13.64%</text>
<text x="436.40" y="359.48" font-family='"Liberation Serif", serif' font-size="9.2" text-anchor="middle" fill="#111" font-weight="normal" font-style="normal" textLength="26.98" lengthAdjust="spacingAndGlyphs" stroke="#111" stroke-width="0.18">27.27%</text>
<text x="509.60" y="359.48" font-family='"Liberation Serif", serif' font-size="9.2" text-anchor="middle" fill="#111" font-weight="normal" font-style="normal" textLength="26.98" lengthAdjust="spacingAndGlyphs" stroke="#111" stroke-width="0.18">40.91%</text>
<text x="223.10" y="370.35" font-family='"Liberation Serif", serif' font-size="9.5" text-anchor="end" fill="#111" font-weight="normal" font-style="normal" textLength="84.20" lengthAdjust="spacingAndGlyphs" stroke="#111" stroke-width="0.18">Movement Sensitivity</text>
<text x="266.30" y="370.35" font-family='"Liberation Serif", serif' font-size="9.2" text-anchor="middle" fill="#111" font-weight="normal" font-style="normal" textLength="26.98" lengthAdjust="spacingAndGlyphs" stroke="#111" stroke-width="0.18">54.55%</text>
<text x="351.80" y="370.35" font-family='"Liberation Serif", serif' font-size="9.2" text-anchor="middle" fill="#111" font-weight="normal" font-style="normal" textLength="26.98" lengthAdjust="spacingAndGlyphs" stroke="#111" stroke-width="0.18">18.18%</text>
<text x="436.40" y="370.35" font-family='"Liberation Serif", serif' font-size="9.2" text-anchor="middle" fill="#111" font-weight="normal" font-style="normal" textLength="26.98" lengthAdjust="spacingAndGlyphs" stroke="#111" stroke-width="0.18">27.27%</text>
<text x="509.60" y="370.35" font-family='"Liberation Serif", serif' font-size="9.2" text-anchor="middle" fill="#111" font-weight="normal" font-style="normal" textLength="26.98" lengthAdjust="spacingAndGlyphs" stroke="#111" stroke-width="0.18">45.45%</text>
<text x="223.10" y="381.23" font-family='"Liberation Serif", serif' font-size="9.5" text-anchor="end" fill="#111" font-weight="normal" font-style="normal" textLength="129.70" lengthAdjust="spacingAndGlyphs" stroke="#111" stroke-width="0.18">Underresponsive/Seeks Sensation</text>
<text x="266.30" y="381.23" font-family='"Liberation Serif", serif' font-size="9.2" text-anchor="middle" fill="#111" font-weight="normal" font-style="normal" textLength="22.60" lengthAdjust="spacingAndGlyphs" stroke="#111" stroke-width="0.18">9.09%</text>
<text x="351.80" y="381.23" font-family='"Liberation Serif", serif' font-size="9.2" text-anchor="middle" fill="#111" font-weight="normal" font-style="normal" textLength="22.60" lengthAdjust="spacingAndGlyphs" stroke="#111" stroke-width="0.18">4.55%</text>
<text x="436.40" y="381.23" font-family='"Liberation Serif", serif' font-size="9.2" text-anchor="middle" fill="#111" font-weight="normal" font-style="normal" textLength="26.98" lengthAdjust="spacingAndGlyphs" stroke="#111" stroke-width="0.18">86.36%</text>
<text x="509.60" y="381.23" font-family='"Liberation Serif", serif' font-size="9.2" text-anchor="middle" fill="#111" font-weight="normal" font-style="normal" textLength="26.98" lengthAdjust="spacingAndGlyphs" stroke="#111" stroke-width="0.18">90.91%</text>
<text x="223.10" y="392.10" font-family='"Liberation Serif", serif' font-size="9.5" text-anchor="end" fill="#111" font-weight="normal" font-style="normal" textLength="70.00" lengthAdjust="spacingAndGlyphs" stroke="#111" stroke-width="0.18">Auditory Filtering</text>
<text x="266.30" y="392.10" font-family='"Liberation Serif", serif' font-size="9.2" text-anchor="middle" fill="#111" font-weight="normal" font-style="normal" textLength="26.98" lengthAdjust="spacingAndGlyphs" stroke="#111" stroke-width="0.18">36.36%</text>
<text x="351.80" y="392.10" font-family='"Liberation Serif", serif' font-size="9.2" text-anchor="middle" fill="#111" font-weight="normal" font-style="normal" textLength="26.98" lengthAdjust="spacingAndGlyphs" stroke="#111" stroke-width="0.18">13.64%</text>
<text x="436.40" y="392.10" font-family='"Liberation Serif", serif' font-size="9.2" text-anchor="middle" fill="#111" font-weight="normal" font-style="normal" textLength="26.98" lengthAdjust="spacingAndGlyphs" stroke="#111" stroke-width="0.18">50.00%</text>
<text x="509.60" y="392.10" font-family='"Liberation Serif", serif' font-size="9.2" text-anchor="middle" fill="#111" font-weight="normal" font-style="normal" textLength="26.98" lengthAdjust="spacingAndGlyphs" stroke="#111" stroke-width="0.18">63.64%</text>
<text x="223.10" y="402.98" font-family='"Liberation Serif", serif' font-size="9.5" text-anchor="end" fill="#111" font-weight="normal" font-style="normal" textLength="71.80" lengthAdjust="spacingAndGlyphs" stroke="#111" stroke-width="0.18">Low Energy/Weak</text>
<text x="266.30" y="402.98" font-family='"Liberation Serif", serif' font-size="9.2" text-anchor="middle" fill="#111" font-weight="normal" font-style="normal" textLength="26.98" lengthAdjust="spacingAndGlyphs" stroke="#111" stroke-width="0.18">13.64%</text>
<text x="351.80" y="402.98" font-family='"Liberation Serif", serif' font-size="9.2" text-anchor="middle" fill="#111" font-weight="normal" font-style="normal" textLength="22.60" lengthAdjust="spacingAndGlyphs" stroke="#111" stroke-width="0.18">9.09%</text>
<text x="436.40" y="402.98" font-family='"Liberation Serif", serif' font-size="9.2" text-anchor="middle" fill="#111" font-weight="normal" font-style="normal" textLength="26.98" lengthAdjust="spacingAndGlyphs" stroke="#111" stroke-width="0.18">77.27%</text>
<text x="509.60" y="402.98" font-family='"Liberation Serif", serif' font-size="9.2" text-anchor="middle" fill="#111" font-weight="normal" font-style="normal" textLength="26.98" lengthAdjust="spacingAndGlyphs" stroke="#111" stroke-width="0.18">86.36%</text>
<text x="223.10" y="413.85" font-family='"Liberation Serif", serif' font-size="9.5" text-anchor="end" fill="#111" font-weight="normal" font-style="normal" textLength="105.50" lengthAdjust="spacingAndGlyphs" stroke="#111" stroke-width="0.18">Visual/Auditory Sensitivity</text>
<text x="266.30" y="413.85" font-family='"Liberation Serif", serif' font-size="9.2" text-anchor="middle" fill="#111" font-weight="normal" font-style="normal" textLength="26.98" lengthAdjust="spacingAndGlyphs" stroke="#111" stroke-width="0.18">40.91%</text>
<text x="351.80" y="413.85" font-family='"Liberation Serif", serif' font-size="9.2" text-anchor="middle" fill="#111" font-weight="normal" font-style="normal" textLength="26.98" lengthAdjust="spacingAndGlyphs" stroke="#111" stroke-width="0.18">31.82%</text>
<text x="436.40" y="413.85" font-family='"Liberation Serif", serif' font-size="9.2" text-anchor="middle" fill="#111" font-weight="normal" font-style="normal" textLength="26.98" lengthAdjust="spacingAndGlyphs" stroke="#111" stroke-width="0.18">27.27%</text>
<text x="509.60" y="413.85" font-family='"Liberation Serif", serif' font-size="9.2" text-anchor="middle" fill="#111" font-weight="normal" font-style="normal" textLength="26.98" lengthAdjust="spacingAndGlyphs" stroke="#111" stroke-width="0.18">59.09%</text>
<text x="223.10" y="424.73" font-family='"Liberation Serif", serif' font-size="9.5" text-anchor="end" fill="#111" font-weight="normal" font-style="normal" textLength="19.70" lengthAdjust="spacingAndGlyphs" stroke="#111" stroke-width="0.18">Total</text>
<text x="266.30" y="424.73" font-family='"Liberation Serif", serif' font-size="9.2" text-anchor="middle" fill="#111" font-weight="normal" font-style="normal" textLength="26.98" lengthAdjust="spacingAndGlyphs" stroke="#111" stroke-width="0.18">18.18%</text>
<text x="351.80" y="424.73" font-family='"Liberation Serif", serif' font-size="9.2" text-anchor="middle" fill="#111" font-weight="normal" font-style="normal" textLength="26.98" lengthAdjust="spacingAndGlyphs" stroke="#111" stroke-width="0.18">13.64%</text>
<text x="436.40" y="424.73" font-family='"Liberation Serif", serif' font-size="9.2" text-anchor="middle" fill="#111" font-weight="normal" font-style="normal" textLength="26.98" lengthAdjust="spacingAndGlyphs" stroke="#111" stroke-width="0.18">68.18%</text>
<text x="509.60" y="424.73" font-family='"Liberation Serif", serif' font-size="9.2" text-anchor="middle" fill="#111" font-weight="normal" font-style="normal" textLength="26.98" lengthAdjust="spacingAndGlyphs" stroke="#111" stroke-width="0.18">81.82%</text>
<text x="38.20" y="436.60" font-family='"Liberation Serif", serif' font-size="9.6" text-anchor="start" fill="#000" font-weight="bold" font-style="italic" textLength="32.40" lengthAdjust="spacingAndGlyphs" >ADOS-2</text>
<text x="223.10" y="447.00" font-family='"Liberation Serif", serif' font-size="9.5" text-anchor="end" fill="#111" font-weight="normal" font-style="normal" textLength="95.30" lengthAdjust="spacingAndGlyphs" stroke="#111" stroke-width="0.18">Unusual Sensory Interests</text>
<text x="266.30" y="447.00" font-family='"Liberation Serif", serif' font-size="9.2" text-anchor="middle" fill="#111" font-weight="normal" font-style="normal" textLength="26.98" lengthAdjust="spacingAndGlyphs" stroke="#111" stroke-width="0.18">13.64%</text>
<text x="351.80" y="447.00" font-family='"Liberation Serif", serif' font-size="9.2" text-anchor="middle" fill="#111" font-weight="normal" font-style="normal" textLength="26.98" lengthAdjust="spacingAndGlyphs" stroke="#111" stroke-width="0.18">13.64%</text>
<text x="436.40" y="447.00" font-family='"Liberation Serif", serif' font-size="9.2" text-anchor="middle" fill="#111" font-weight="normal" font-style="normal" textLength="26.98" lengthAdjust="spacingAndGlyphs" stroke="#111" stroke-width="0.18">72.73%</text>
<text x="509.60" y="447.00" font-family='"Liberation Serif", serif' font-size="9.2" text-anchor="middle" fill="#111" font-weight="normal" font-style="normal" textLength="26.98" lengthAdjust="spacingAndGlyphs" stroke="#111" stroke-width="0.18">86.36%</text>
<text x="38.20" y="457.80" font-family='"Liberation Serif", serif' font-size="9.6" text-anchor="start" fill="#000" font-weight="bold" font-style="italic" textLength="25.60" lengthAdjust="spacingAndGlyphs" >ADI-R</text>
<text x="223.10" y="469.20" font-family='"Liberation Serif", serif' font-size="9.5" text-anchor="end" fill="#111" font-weight="normal" font-style="normal" textLength="136.60" lengthAdjust="spacingAndGlyphs" stroke="#111" stroke-width="0.18">Unusual Sensory Interests <tspan font-style="italic">(Current)</tspan></text>
<text x="266.30" y="469.20" font-family='"Liberation Serif", serif' font-size="9.2" text-anchor="middle" fill="#111" font-weight="normal" font-style="normal" textLength="22.60" lengthAdjust="spacingAndGlyphs" stroke="#111" stroke-width="0.18">0.00%</text>
<text x="351.80" y="469.20" font-family='"Liberation Serif", serif' font-size="9.2" text-anchor="middle" fill="#111" font-weight="normal" font-style="normal" textLength="26.98" lengthAdjust="spacingAndGlyphs" stroke="#111" stroke-width="0.18">33.33%</text>
<text x="436.40" y="469.20" font-family='"Liberation Serif", serif' font-size="9.2" text-anchor="middle" fill="#111" font-weight="normal" font-style="normal" textLength="26.98" lengthAdjust="spacingAndGlyphs" stroke="#111" stroke-width="0.18">66.67%</text>
<text x="509.60" y="469.20" font-family='"Liberation Serif", serif' font-size="9.2" text-anchor="middle" fill="#111" font-weight="normal" font-style="normal" textLength="31.35" lengthAdjust="spacingAndGlyphs" stroke="#111" stroke-width="0.18">100.00%</text>
<text x="223.10" y="480.00" font-family='"Liberation Serif", serif' font-size="9.5" text-anchor="end" fill="#111" font-weight="normal" font-style="normal" textLength="22.50" lengthAdjust="spacingAndGlyphs" stroke="#111" stroke-width="0.18"><tspan font-style="italic">(Ever)</tspan></text>
<text x="266.30" y="480.00" font-family='"Liberation Serif", serif' font-size="9.2" text-anchor="middle" fill="#111" font-weight="normal" font-style="normal" textLength="22.60" lengthAdjust="spacingAndGlyphs" stroke="#111" stroke-width="0.18">0.00%</text>
<text x="351.80" y="480.00" font-family='"Liberation Serif", serif' font-size="9.2" text-anchor="middle" fill="#111" font-weight="normal" font-style="normal" textLength="26.98" lengthAdjust="spacingAndGlyphs" stroke="#111" stroke-width="0.18">28.57%</text>
<text x="436.40" y="480.00" font-family='"Liberation Serif", serif' font-size="9.2" text-anchor="middle" fill="#111" font-weight="normal" font-style="normal" textLength="26.98" lengthAdjust="spacingAndGlyphs" stroke="#111" stroke-width="0.18">71.43%</text>
<text x="509.60" y="480.00" font-family='"Liberation Serif", serif' font-size="9.2" text-anchor="middle" fill="#111" font-weight="normal" font-style="normal" textLength="31.35" lengthAdjust="spacingAndGlyphs" stroke="#111" stroke-width="0.18">100.00%</text>
<text x="223.10" y="491.00" font-family='"Liberation Serif", serif' font-size="9.5" text-anchor="end" fill="#111" font-weight="normal" font-style="normal" textLength="111.10" lengthAdjust="spacingAndGlyphs" stroke="#111" stroke-width="0.18">Sensitivity to Noise <tspan font-style="italic">(Current)</tspan></text>
<text x="266.30" y="491.00" font-family='"Liberation Serif", serif' font-size="9.2" text-anchor="middle" fill="#111" font-weight="normal" font-style="normal" textLength="26.98" lengthAdjust="spacingAndGlyphs" stroke="#111" stroke-width="0.18">42.86%</text>
<text x="351.80" y="491.00" font-family='"Liberation Serif", serif' font-size="9.2" text-anchor="middle" fill="#111" font-weight="normal" font-style="normal" textLength="26.98" lengthAdjust="spacingAndGlyphs" stroke="#111" stroke-width="0.18">19.05%</text>
<text x="436.40" y="491.00" font-family='"Liberation Serif", serif' font-size="9.2" text-anchor="middle" fill="#111" font-weight="normal" font-style="normal" textLength="26.98" lengthAdjust="spacingAndGlyphs" stroke="#111" stroke-width="0.18">38.10%</text>
<text x="509.60" y="491.00" font-family='"Liberation Serif", serif' font-size="9.2" text-anchor="middle" fill="#111" font-weight="normal" font-style="normal" textLength="26.98" lengthAdjust="spacingAndGlyphs" stroke="#111" stroke-width="0.18">57.14%</text>
<text x="223.10" y="501.50" font-family='"Liberation Serif", serif' font-size="9.5" text-anchor="end" fill="#111" font-weight="normal" font-style="normal" textLength="22.50" lengthAdjust="spacingAndGlyphs" stroke="#111" stroke-width="0.18"><tspan font-style="italic">(Ever)</tspan></text>
<text x="266.30" y="501.50" font-family='"Liberation Serif", serif' font-size="9.2" text-anchor="middle" fill="#111" font-weight="normal" font-style="normal" textLength="26.98" lengthAdjust="spacingAndGlyphs" stroke="#111" stroke-width="0.18">33.33%</text>
<text x="351.80" y="501.50" font-family='"Liberation Serif", serif' font-size="9.2" text-anchor="middle" fill="#111" font-weight="normal" font-style="normal" textLength="26.98" lengthAdjust="spacingAndGlyphs" stroke="#111" stroke-width="0.18">14.29%</text>
<text x="436.40" y="501.50" font-family='"Liberation Serif", serif' font-size="9.2" text-anchor="middle" fill="#111" font-weight="normal" font-style="normal" textLength="26.98" lengthAdjust="spacingAndGlyphs" stroke="#111" stroke-width="0.18">52.38%</text>
<text x="509.60" y="501.50" font-family='"Liberation Serif", serif' font-size="9.2" text-anchor="middle" fill="#111" font-weight="normal" font-style="normal" textLength="26.98" lengthAdjust="spacingAndGlyphs" stroke="#111" stroke-width="0.18">66.67%</text>
<text x="223.10" y="512.40" font-family='"Liberation Serif", serif' font-size="9.5" text-anchor="end" fill="#111" font-weight="normal" font-style="normal" textLength="186.00" lengthAdjust="spacingAndGlyphs" stroke="#111" stroke-width="0.18">Abnormal Response to Sensory Stimuli <tspan font-style="italic">(Current)</tspan></text>
<text x="266.30" y="512.40" font-family='"Liberation Serif", serif' font-size="9.2" text-anchor="middle" fill="#111" font-weight="normal" font-style="normal" textLength="26.98" lengthAdjust="spacingAndGlyphs" stroke="#111" stroke-width="0.18">76.19%</text>
<text x="351.80" y="512.40" font-family='"Liberation Serif", serif' font-size="9.2" text-anchor="middle" fill="#111" font-weight="normal" font-style="normal" textLength="22.60" lengthAdjust="spacingAndGlyphs" stroke="#111" stroke-width="0.18">9.52%</text>
<text x="436.40" y="512.40" font-family='"Liberation Serif", serif' font-size="9.2" text-anchor="middle" fill="#111" font-weight="normal" font-style="normal" textLength="26.98" lengthAdjust="spacingAndGlyphs" stroke="#111" stroke-width="0.18">14.29%</text>
<text x="509.60" y="512.40" font-family='"Liberation Serif", serif' font-size="9.2" text-anchor="middle" fill="#111" font-weight="normal" font-style="normal" textLength="26.98" lengthAdjust="spacingAndGlyphs" stroke="#111" stroke-width="0.18">23.81%</text>
<text x="223.10" y="522.60" font-family='"Liberation Serif", serif' font-size="9.5" text-anchor="end" fill="#111" font-weight="normal" font-style="normal" textLength="22.50" lengthAdjust="spacingAndGlyphs" stroke="#111" stroke-width="0.18"><tspan font-style="italic">(Ever)</tspan></text>
<text x="266.30" y="522.60" font-family='"Liberation Serif", serif' font-size="9.2" text-anchor="middle" fill="#111" font-weight="normal" font-style="normal" textLength="26.98" lengthAdjust="spacingAndGlyphs" stroke="#111" stroke-width="0.18">57.14%</text>
<text x="351.80" y="522.60" font-family='"Liberation Serif", serif' font-size="9.2" text-anchor="middle" fill="#111" font-weight="normal" font-style="normal" textLength="26.98" lengthAdjust="spacingAndGlyphs" stroke="#111" stroke-width="0.18">23.81%</text>
<text x="436.40" y="522.60" font-family='"Liberation Serif", serif' font-size="9.2" text-anchor="middle" fill="#111" font-weight="normal" font-style="normal" textLength="26.98" lengthAdjust="spacingAndGlyphs" stroke="#111" stroke-width="0.18">19.05%</text>
<text x="509.60" y="522.60" font-family='"Liberation Serif", serif' font-size="9.2" text-anchor="middle" fill="#111" font-weight="normal" font-style="normal" textLength="26.98" lengthAdjust="spacingAndGlyphs" stroke="#111" stroke-width="0.18">42.86%</text>
</svg></body></html>
